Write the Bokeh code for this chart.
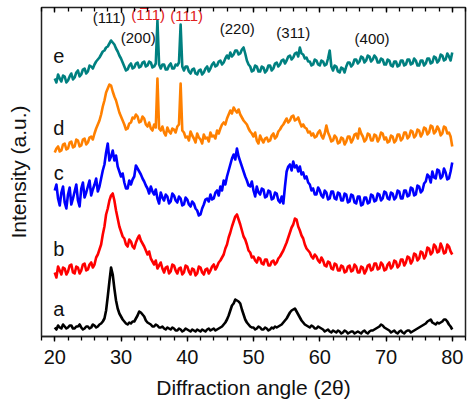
import numpy as np
from bokeh.plotting import figure
from bokeh.models import LinearAxis, SingleIntervalTicker, FixedTicker
from bokeh.core.properties import value
from bokeh.embed import file_html
from bokeh.resources import INLINE

# 2-theta grid (degrees), 0.25 deg steps from 20 to 80
two_theta = np.arange(20.0, 80.001, 0.25)

# Intensities (a.u., vertically offset as in the figure); one row = 5 degrees
trace_a = [9, 7, 11, 9, 8, 12, 10, 8, 9, 11, 11, 8, 8, 10, 10, 12, 9, 7, 8, 10,
           10, 8, 9, 12, 11, 9, 10, 12, 13, 15, 18, 26, 40, 55, 69, 62, 48, 36, 28, 23,
           20, 17, 15, 13, 12, 14, 13, 15, 15, 18, 21, 25, 24, 22, 20, 16, 14, 13, 12, 10,
           10, 12, 11, 9, 9, 10, 8, 7, 9, 8, 7, 9, 8, 6, 6, 8, 7, 5, 6, 8,
           7, 6, 5, 7, 6, 5, 7, 6, 5, 7, 6, 5, 7, 8, 6, 7, 8, 6, 7, 8,
           9, 10, 12, 14, 17, 21, 26, 31, 33, 37, 36, 35, 33, 27, 22, 17, 14, 12, 10, 9,
           9, 7, 8, 10, 9, 7, 7, 9, 8, 6, 7, 9, 8, 10, 9, 10, 11, 12, 14, 16,
           18, 21, 24, 26, 27, 28, 25, 22, 19, 16, 14, 12, 11, 10, 9, 11, 10, 8, 8, 10,
           9, 8, 7, 5, 6, 7, 5, 4, 6, 5, 4, 6, 5, 3, 4, 6, 5, 3, 4, 5,
           5, 3, 4, 5, 4, 3, 5, 6, 4, 3, 5, 6, 6, 7, 8, 9, 10, 12, 11, 9,
           8, 7, 6, 4, 5, 6, 4, 3, 5, 6, 4, 3, 5, 6, 6, 4, 5, 6, 7, 8,
           9, 10, 11, 12, 13, 15, 16, 17, 14, 13, 12, 14, 13, 14, 15, 17, 17, 15, 12, 10,
           7]
trace_b = [64, 59, 70, 66, 62, 69, 68, 62, 65, 71, 72, 64, 63, 70, 69, 63, 66, 72, 73, 66,
           67, 72, 74, 69, 72, 79, 82, 87, 92, 102, 110, 122, 128, 136, 141, 143, 136, 126, 118, 110,
           105, 100, 98, 92, 90, 97, 95, 90, 88, 94, 98, 101, 96, 93, 90, 86, 82, 85, 78, 75,
           72, 76, 68, 71, 74, 68, 64, 69, 70, 63, 65, 72, 71, 66, 63, 68, 69, 62, 64, 71,
           70, 65, 62, 68, 67, 61, 63, 70, 69, 64, 62, 67, 68, 63, 66, 70, 72, 67, 70, 74,
           76, 79, 82, 88, 92, 99, 104, 110, 115, 120, 122, 117, 112, 106, 100, 97, 92, 86, 84, 79,
           80, 76, 74, 79, 78, 73, 72, 77, 77, 71, 71, 75, 76, 72, 74, 78, 80, 83, 86, 90,
           94, 99, 104, 109, 112, 118, 117, 110, 106, 101, 98, 92, 88, 86, 84, 80, 78, 82, 80, 76,
           74, 79, 76, 71, 70, 75, 74, 68, 67, 73, 72, 66, 66, 71, 70, 64, 65, 70, 71, 65,
           66, 72, 70, 64, 64, 70, 69, 63, 66, 71, 72, 66, 67, 73, 73, 67, 68, 74, 72, 66,
           67, 72, 74, 68, 70, 76, 75, 69, 71, 77, 77, 71, 74, 80, 79, 73, 76, 83, 82, 76,
           78, 85, 84, 78, 81, 89, 88, 82, 84, 92, 90, 84, 85, 93, 89, 83, 84, 92, 90, 85,
           82]
trace_c = [146, 152, 138, 131, 144, 150, 134, 128, 142, 149, 132, 138, 145, 152, 136, 130, 148, 154, 139, 144,
           150, 156, 141, 147, 152, 158, 145, 150, 158, 166, 172, 184, 193, 176, 180, 186, 176, 181, 170, 165,
           160, 163, 154, 148, 148, 156, 152, 157, 160, 171, 168, 165, 162, 158, 155, 151, 148, 143, 150, 145,
           142, 147, 138, 133, 144, 139, 136, 142, 140, 133, 135, 143, 141, 136, 134, 140, 138, 131, 132, 139,
           137, 132, 130, 135, 133, 128, 126, 121, 122, 128, 132, 137, 138, 135, 142, 137, 138, 144, 146, 141,
           150, 146, 156, 152, 160, 166, 172, 178, 182, 177, 188, 180, 175, 170, 165, 160, 156, 151, 150, 155,
           146, 140, 150, 144, 142, 148, 147, 139, 140, 146, 145, 137, 138, 144, 143, 136, 134, 140, 133, 150,
           165, 170, 172, 166, 175, 169, 171, 165, 170, 162, 164, 158, 160, 154, 152, 146, 148, 142, 142, 149,
           146, 141, 139, 146, 144, 137, 138, 145, 145, 138, 137, 144, 143, 136, 136, 143, 142, 134, 135, 142,
           141, 134, 133, 140, 140, 131, 132, 139, 139, 133, 134, 142, 141, 135, 136, 143, 142, 136, 138, 145,
           144, 138, 137, 144, 143, 137, 139, 146, 145, 138, 138, 146, 146, 140, 141, 149, 148, 141, 142, 151,
           150, 144, 146, 153, 155, 162, 160, 154, 165, 159, 158, 167, 166, 158, 160, 168, 164, 157, 158, 165,
           174]
trace_d = [184, 188, 190, 185, 186, 192, 193, 187, 188, 194, 195, 189, 190, 197, 196, 190, 191, 197, 198, 192,
           194, 199, 200, 197, 203, 208, 212, 216, 222, 230, 236, 244, 248, 252, 251, 245, 240, 236, 230, 224,
           220, 216, 212, 207, 208, 213, 214, 219, 218, 222, 220, 214, 215, 220, 218, 212, 210, 214, 208, 206,
           212, 209, 258, 208, 206, 210, 204, 201, 209, 205, 203, 208, 207, 204, 210, 212, 253, 206, 204, 199,
           200, 196, 205, 201, 198, 194, 203, 199, 197, 193, 202, 198, 199, 195, 204, 200, 201, 198, 206, 203,
           208, 212, 214, 212, 218, 222, 226, 223, 229, 226, 224, 227, 222, 219, 216, 214, 212, 208, 205, 203,
           200, 204, 196, 193, 201, 197, 194, 198, 199, 195, 196, 201, 203, 198, 200, 205, 207, 210, 212, 215,
           218, 214, 216, 220, 221, 216, 217, 219, 214, 210, 212, 209, 208, 204, 205, 201, 203, 199, 200, 204,
           206, 201, 198, 203, 211, 204, 200, 195, 196, 201, 199, 193, 194, 199, 198, 192, 195, 200, 200, 194,
           197, 202, 203, 198, 208, 203, 200, 195, 197, 203, 202, 196, 196, 202, 201, 195, 198, 204, 203, 197,
           199, 194, 195, 201, 200, 194, 196, 202, 202, 196, 198, 204, 204, 198, 200, 206, 205, 199, 201, 207,
           206, 200, 203, 209, 208, 202, 204, 211, 210, 203, 205, 210, 207, 201, 203, 210, 209, 203, 204, 200,
           190]
trace_e = [258, 254, 262, 258, 255, 261, 260, 254, 256, 260, 263, 257, 259, 264, 266, 260, 262, 267, 268, 263,
           265, 271, 270, 268, 272, 275, 277, 279, 282, 285, 286, 289, 290, 293, 296, 294, 292, 288, 285, 281,
           278, 274, 270, 266, 267, 271, 273, 268, 269, 273, 274, 269, 270, 274, 275, 270, 271, 275, 274, 269,
           270, 273, 316, 272, 268, 272, 272, 267, 267, 271, 273, 268, 268, 272, 271, 274, 312, 270, 266, 270,
           270, 265, 263, 267, 268, 263, 262, 266, 267, 262, 264, 268, 270, 265, 268, 272, 274, 270, 271, 275,
           276, 272, 274, 278, 281, 278, 284, 280, 282, 286, 286, 282, 283, 287, 289, 283, 276, 272, 270, 265,
           266, 271, 270, 265, 265, 270, 269, 264, 266, 271, 271, 266, 268, 273, 274, 270, 272, 276, 277, 273,
           276, 280, 281, 277, 279, 283, 284, 280, 289, 283, 282, 278, 279, 275, 275, 271, 272, 277, 276, 272,
           271, 276, 275, 271, 272, 278, 286, 270, 266, 271, 270, 265, 264, 269, 268, 264, 270, 274, 274, 270,
           272, 277, 277, 273, 275, 280, 279, 274, 276, 281, 280, 275, 277, 281, 279, 274, 274, 278, 277, 272,
           272, 277, 276, 271, 270, 275, 275, 270, 271, 276, 276, 271, 272, 277, 277, 272, 273, 278, 276, 271,
           271, 276, 276, 271, 273, 278, 278, 273, 274, 280, 279, 274, 276, 282, 281, 276, 277, 283, 280, 276,
           284]

series_names = ["a", "b", "c", "d", "e"]
series_colors = ["#000000", "#ff0000", "#0000ff", "#ff8000", "#008080"]
series_label_x = [20.6, 20.6, 20.6, 20.6, 20.6]
series_label_y = [28, 88, 164, 209, 281]

peak_labels = ["(111)", "(200)", "(220)", "(311)", "(400)"]
peak_x = [28.2, 32.6, 47.55, 56.0, 67.9]
peak_y = [319, 299, 308, 304, 298]

red_labels = ["(1\u030511)", "(111)"]
red_x = [34.1, 39.9]
red_y = [322, 321]

FONT = "Liberation Sans"

traces = [trace_a, trace_b, trace_c, trace_d, trace_e]
for tr in traces:
    assert len(tr) == len(two_theta), len(tr)

p = figure(width=474, height=404, x_range=(18, 82), y_range=(0, 329),
           output_backend="svg", toolbar_location=None,
           min_border_left=41, min_border_right=9, min_border_top=7, min_border_bottom=68)
p.background_fill_color = "white"
p.border_fill_color = "white"
p.outline_line_color = "#222222"
p.outline_line_width = 1.5
p.xgrid.visible = False
p.ygrid.visible = False

for tr, col in zip(traces, series_colors):
    p.line(two_theta, tr, line_color=col, line_width=2.6, line_join="round")

# bottom axis
xa = p.xaxis[0]
xa.ticker = SingleIntervalTicker(interval=10, num_minor_ticks=5)
xa.axis_label = "Diffraction angle (2\u03b8)"
xa.axis_label_text_font = FONT
xa.axis_label_text_font_size = "21px"
xa.axis_label_text_font_style = "normal"
xa.axis_label_text_color = "#111111"
xa.axis_label_standoff = 9
xa.major_label_text_font = FONT
xa.major_label_text_font_size = "20px"
xa.major_label_text_color = "#111111"
xa.major_label_standoff = 8
xa.major_tick_in = 0
xa.major_tick_out = 5
xa.minor_tick_in = 0
xa.minor_tick_out = 4
xa.axis_line_color = "#222222"
xa.axis_line_width = 1.5
xa.major_tick_line_width = 1.3
xa.minor_tick_line_width = 1.3

# left axis: label only
ya = p.yaxis[0]
ya.ticker = FixedTicker(ticks=[])
ya.major_tick_in = 0
ya.major_tick_out = 0
ya.minor_tick_in = 0
ya.minor_tick_out = 0
ya.axis_line_color = None
ya.axis_label = "Intensity (a.u.)"
ya.axis_label_text_font = FONT
ya.axis_label_text_font_size = "21px"
ya.axis_label_text_font_style = "normal"
ya.axis_label_text_color = "#111111"
ya.axis_label_standoff = 12

# top axis: inward ticks only, no labels
top = LinearAxis(ticker=SingleIntervalTicker(interval=10, num_minor_ticks=5),
                 major_label_text_color=None, major_label_standoff=0,
                 major_tick_in=5, major_tick_out=0, minor_tick_in=4, minor_tick_out=0,
                 axis_line_color=None, major_tick_line_width=1.3, minor_tick_line_width=1.3)
p.add_layout(top, "above")

# series letters
p.text(x=series_label_x, y=series_label_y, text=series_names,
       text_font=value(FONT), text_font_size="20px", text_color="#111111",
       text_align="center", text_baseline="middle")

# peak indices
p.text(x=peak_x, y=peak_y, text=peak_labels,
       text_font=value(FONT), text_font_size="15px", text_color="#111111",
       text_align="center", text_baseline="middle")
p.text(x=red_x, y=red_y, text=red_labels,
       text_font=value(FONT), text_font_size="15px", text_color="#e02020",
       text_align="center", text_baseline="middle")

open("out.html", "w").write(file_html(p, INLINE))
